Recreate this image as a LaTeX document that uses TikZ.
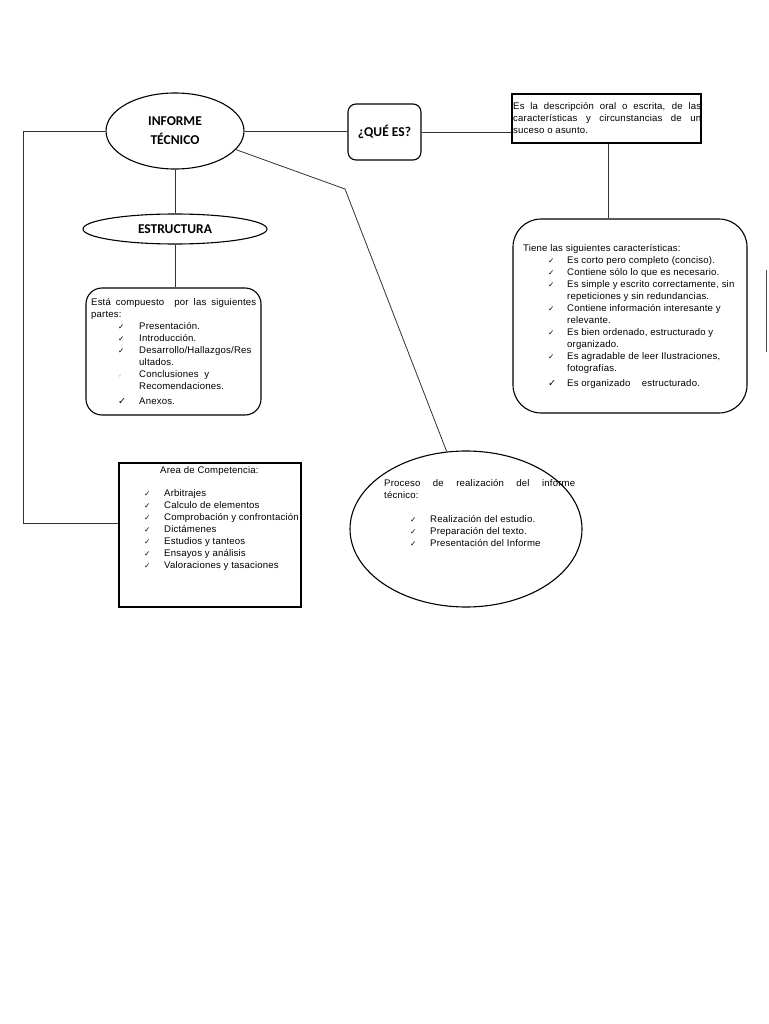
\documentclass[tikz,border=0pt]{standalone}
\usepackage{fontspec}
\usetikzlibrary{shapes.geometric,calc}
\newfontfamily\arialf[LetterSpace=1.8]{Liberation Sans}
\newfontfamily\calf{Carlito}
\newfontfamily\dejavuf{DejaVu Sans}
\newcommand\ck{{\dejavuf\fontsize{7.5}{7.5}\selectfont ✓}}
\newcommand\bck{{\dejavuf\fontsize{9.5}{9.5}\selectfont ✓}}
\newcommand\fck{{\color{black!35}\dejavuf\fontsize{5}{5}\selectfont ✓}}
\newcommand\itm[3]{\hspace*{#1}\makebox[#2][l]{#3}}
\tikzset{
  conn/.style={draw=black!80, line width=0.8pt},
  title/.style={font=\calf\bfseries\fontsize{13.5}{19}\selectfont, align=center, inner sep=0pt},
  body/.style={font=\arialf\fontsize{9.6}{12}\selectfont, align=left, inner sep=0pt, anchor=north west},
  oval/.style={draw, ellipse, line width=1.1pt, inner sep=0pt},
  rbox/.style={draw, rectangle, line width=1.1pt, inner sep=0pt},
  tbox/.style={draw, rectangle, line width=1.7pt, inner sep=0pt},
}
\begin{document}
\begin{tikzpicture}[x=1pt,y=-1pt]
\useasboundingbox[fill=white] (0,0) rectangle (768,1024);

% shapes
\node[oval, minimum width=138pt, minimum height=76pt, title] (inf) at (175,131) {INFORME\\TÉCNICO};
\node[rbox, rounded corners=8pt, minimum width=73pt, minimum height=56pt, title] (que) at (384.5,132) {¿QUÉ ES?};
\node[tbox, minimum width=189pt, minimum height=49pt] (def) at (606.5,118.5) {};
\node[rbox, rounded corners=28pt, minimum width=234pt, minimum height=194pt] (chars) at (630,316) {};
\node[oval, minimum width=184pt, minimum height=30pt, title] (est) at (175,229) {ESTRUCTURA};
\node[rbox, rounded corners=16pt, minimum width=175pt, minimum height=127pt] (estbox) at (173.5,351.5) {};
\node[tbox, minimum width=182pt, minimum height=144pt] (area) at (210,535) {};
\node[oval, minimum width=232pt, minimum height=156pt] (proc) at (466,529) {};

% connectors
\coordinate (c1) at (23,131);
\coordinate (c2) at (345,189);
\draw[conn] (inf.west) -- (c1) |- ($(area.north west)+(0,61)$);
\draw[conn] (inf.east) -- (inf.east -| que.west);
\draw[conn] (que.east) -- (que.east -| def.west);
\draw[conn] (def.south -| 608,0) -- (chars.north -| 608,0);
\draw[conn] (inf.-17) -- (c2) -- (proc.104);
\draw[conn] (inf.south) -- (est.north);
\draw[conn] (est.south) -- (est.south |- estbox.north);
\draw[line width=1pt, draw=black!70] (766,270) -- (766,352);

% texts (north = first baseline - 8.4)
\node[body] (deft) at (513,100.6) {\strut\makebox[188pt][s]{Es la descripción oral o escrita, de las}\\
\makebox[188pt][s]{características y circunstancias de un}\\
suceso o asunto.};

\node[body] (charst) at (523,242.6) {\strut Tiene las siguientes características:\\
\itm{25pt}{19pt}{\ck}Es corto pero completo (conciso).\\
\itm{25pt}{19pt}{\ck}Contiene sólo lo que es necesario.\\
\itm{25pt}{19pt}{\ck}Es simple y escrito correctamente, sin\\
\hspace*{44pt}repeticiones y sin redundancias.\\
\itm{25pt}{19pt}{\ck}Contiene información interesante y\\
\hspace*{44pt}relevante.\\
\itm{25pt}{19pt}{\ck}Es bien ordenado, estructurado y\\
\hspace*{44pt}organizado.\\
\itm{25pt}{19pt}{\ck}Es agradable de leer Ilustraciones,\\
\hspace*{44pt}fotografías.\\[3pt]
\itm{25pt}{19pt}{\bck}Es organizado\ \ \ \ estructurado.};

\node[body] (estt) at (91,296.6) {\strut\makebox[165pt][s]{Está compuesto\ \ por las siguientes}\\
partes:\\
\itm{27pt}{21pt}{\ck}Presentación.\\
\itm{27pt}{21pt}{\ck}Introducción.\\
\itm{27pt}{21pt}{\ck}Desarrollo/Hallazgos/Res\\
\hspace*{48pt}ultados.\\
\itm{27pt}{21pt}{\fck}Conclusiones\ \ y\\
\hspace*{48pt}Recomendaciones.\\[3pt]
\itm{27pt}{21pt}{\bck}Anexos.};

\node[body] (areah) at (160,464.6) {\strut Area de Competencia:};
\begin{scope}
\clip (area.north west) rectangle (area.south east);
\node[body] (areat) at (144,487.6) {\strut\makebox[20pt][l]{\ck}Arbitrajes\\
\makebox[20pt][l]{\ck}Calculo de elementos\\
\makebox[20pt][l]{\ck}Comprobación y confrontación\\
\makebox[20pt][l]{\ck}Dictámenes\\
\makebox[20pt][l]{\ck}Estudios y tanteos\\
\makebox[20pt][l]{\ck}Ensayos y análisis\\
\makebox[20pt][l]{\ck}Valoraciones y tasaciones};
\end{scope}

\node[body] (proct) at (384,477.6) {\strut\makebox[191pt][s]{Proceso de realización del informe}\\
técnico:\\[12pt]
\itm{26pt}{20pt}{\ck}Realización del estudio.\\
\itm{26pt}{20pt}{\ck}Preparación del texto.\\
\itm{26pt}{20pt}{\ck}Presentación del Informe};
\end{tikzpicture}
\end{document}
